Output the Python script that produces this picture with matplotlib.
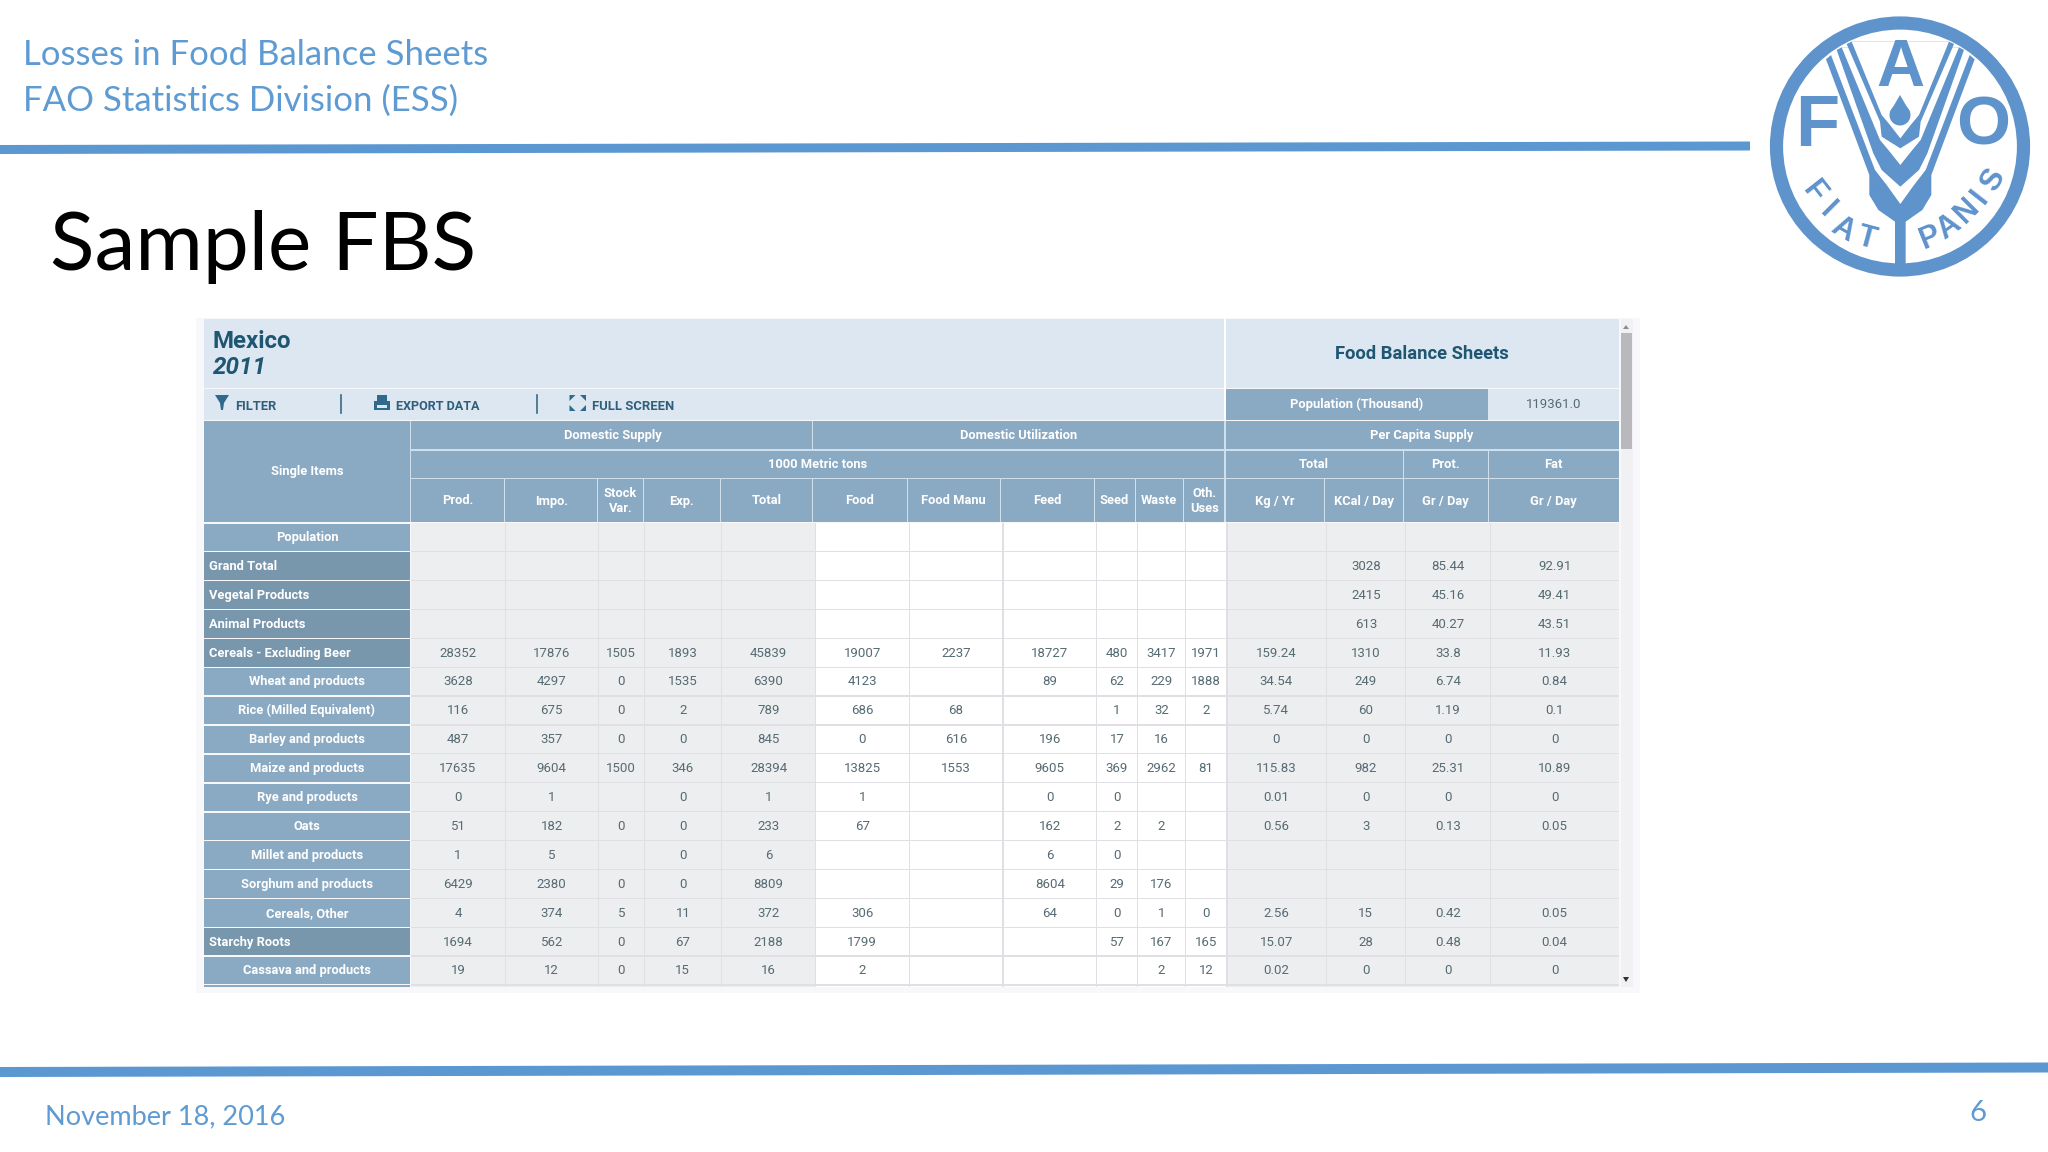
"""Sample FBS slide: Mexico 2011 food balance sheet table with FAO logo."""

import matplotlib

matplotlib.use("Agg")
import matplotlib.pyplot as plt
from matplotlib.patches import Circle, Polygon, Rectangle

ITEMS = [
    "Population", "Grand Total", "Vegetal Products", "Animal Products",
    "Cereals - Excluding Beer", "Wheat and products", "Rice (Milled Equivalent)",
    "Barley and products", "Maize and products", "Rye and products", "Oats",
    "Millet and products", "Sorghum and products", "Cereals, Other",
    "Starchy Roots", "Cassava and products",
]
GROUP_ITEMS = {"Grand Total", "Vegetal Products", "Animal Products",
               "Cereals - Excluding Beer", "Starchy Roots"}

COLUMNS = ["Prod.", "Impo.", "Stock\nVar.", "Exp.", "Total", "Food", "Food Manu",
           "Feed", "Seed", "Waste", "Oth.\nUses", "Kg / Yr", "KCal / Day",
           "Gr / Day", "Gr / Day"]

PROD = ["", "", "", "", "28352", "3628", "116", "487", "17635", "0", "51", "1", "6429", "4", "1694", "19"]
IMPO = ["", "", "", "", "17876", "4297", "675", "357", "9604", "1", "182", "5", "2380", "374", "562", "12"]
STOCK = ["", "", "", "", "1505", "0", "0", "0", "1500", "", "0", "", "0", "5", "0", "0"]
EXPO = ["", "", "", "", "1893", "1535", "2", "0", "346", "0", "0", "0", "0", "11", "67", "15"]
TOTAL = ["", "", "", "", "45839", "6390", "789", "845", "28394", "1", "233", "6", "8809", "372", "2188", "16"]
FOOD = ["", "", "", "", "19007", "4123", "686", "0", "13825", "1", "67", "", "", "306", "1799", "2"]
FOOD_MANU = ["", "", "", "", "2237", "", "68", "616", "1553", "", "", "", "", "", "", ""]
FEED = ["", "", "", "", "18727", "89", "", "196", "9605", "0", "162", "6", "8604", "64", "", ""]
SEED = ["", "", "", "", "480", "62", "1", "17", "369", "0", "2", "0", "29", "0", "57", ""]
WASTE = ["", "", "", "", "3417", "229", "32", "16", "2962", "", "2", "", "176", "1", "167", "2"]
OTHER = ["", "", "", "", "1971", "1888", "2", "", "81", "", "", "", "", "0", "165", "12"]
KG_YR = ["", "", "", "", "159.24", "34.54", "5.74", "0", "115.83", "0.01", "0.56", "", "", "2.56", "15.07", "0.02"]
KCAL = ["", "3028", "2415", "613", "1310", "249", "60", "0", "982", "0", "3", "", "", "15", "28", "0"]
PROT = ["", "85.44", "45.16", "40.27", "33.8", "6.74", "1.19", "0", "25.31", "0", "0.13", "", "", "0.42", "0.48", "0"]
FAT = ["", "92.91", "49.41", "43.51", "11.93", "0.84", "0.1", "0", "10.89", "0", "0.05", "", "", "0.05", "0.04", "0"]
VALUES = [PROD, IMPO, STOCK, EXPO, TOTAL, FOOD, FOOD_MANU, FEED, SEED, WASTE,
          OTHER, KG_YR, KCAL, PROT, FAT]

# layout, in image pixels
COL_X = [411, 505, 598.5, 644, 721.7, 815.4, 909, 1002.8, 1096.6, 1137.4,
         1185.5, 1226.8, 1326, 1405.5, 1490.5, 1618.7]
HEAD_X = [411, 504.7, 597.6, 643, 720.4, 812.3, 907, 1000.3, 1094, 1135,
          1183.5, 1224.8, 1324, 1403, 1488.5, 1618.7]
ROW_TOP = 523.0
ROW_H = 28.9

SLIDE_BLUE = "#5b97d1"
SLIDE_TEXT = "#5f9bd3"
LOGO_BLUE = "#5f93cb"
HEAD_BLUE = "#8aa9c2"
DARK_BLUE = "#7896ac"
PANEL = "#dde7f1"
GRAY = "#edeeef"
LINE = "#e0e0e4"
CELL_TEXT = "#566b73"
TITLE_TEXT = "#1f5672"
SEP = "#cfe0ec"
ROBOTO = "Roboto"
SLIDE_FONT = "Lato"


def rect(ax, x0, y0, x1, y1, color, zorder=1):
    ax.add_patch(Rectangle((x0, y0), x1 - x0, y1 - y0, facecolor=color,
                           edgecolor="none", zorder=zorder))


def label(ax, x, y, s, size=9.5, color="white", weight="normal", ha="center", style="normal", family=ROBOTO):
    ax.text(x, y, s, fontsize=size, color=color, fontweight=weight, ha=ha,
            va="center", style=style, family=family, zorder=5, linespacing=1.15)


def draw_slide(ax):
    # slightly tilted rules, the slide was captured off a screen
    ax.add_patch(Polygon([(0, 145), (1750, 141.5), (1750, 150.5), (0, 154)], facecolor=SLIDE_BLUE, edgecolor="none"))
    ax.add_patch(Polygon([(0, 1067), (2048, 1062.5), (2048, 1072.5), (0, 1077)], facecolor=SLIDE_BLUE, edgecolor="none"))
    ax.text(23, 65, "Losses in Food Balance Sheets", fontsize=25, color=SLIDE_TEXT, va="baseline", family=SLIDE_FONT)
    ax.text(23, 110.5, "FAO Statistics Division (ESS)", fontsize=25, color=SLIDE_TEXT, va="baseline", family=SLIDE_FONT)
    ax.text(50, 270, "Sample FBS", fontsize=59, color="black", va="baseline", family=SLIDE_FONT)
    ax.text(45, 1124, "November 18, 2016", fontsize=19.5, color=SLIDE_TEXT, va="baseline", family=SLIDE_FONT)
    ax.text(1969, 1121, "6", fontsize=21, color=SLIDE_TEXT, va="baseline", family=SLIDE_FONT)


def draw_header(ax):
    rect(ax, 196, 318, 1640, 993, "#f8f8fa", 0)
    rect(ax, 203.5, 319, 1618.7, 388, PANEL)
    rect(ax, 203.5, 389, 1618.7, 420, PANEL)
    rect(ax, 1224, 319, 1225.5, 420, "white", 2)
    rect(ax, 1225.5, 389, 1488, 420, HEAD_BLUE, 2)

    label(ax, 212, 341, "Mexico", 17.3, TITLE_TEXT, "bold", "left")
    label(ax, 213, 368, "2011", 17.5, TITLE_TEXT, "bold", "left", "italic")
    label(ax, 1422, 354, "Food Balance Sheets", 13.2, TITLE_TEXT, "bold")
    label(ax, 1357, 404, "Population (Thousand)", 9.4, "white", "bold")
    label(ax, 1554, 404, "119361.0", 9.5, CELL_TEXT)

    label(ax, 235, 406, "FILTER", 9.3, "#2f5f7c", "bold", "left")
    label(ax, 396, 406, "EXPORT DATA", 9.1, "#2f5f7c", "bold", "left")
    label(ax, 592.5, 406, "FULL SCREEN", 9.4, "#2f5f7c", "bold", "left")
    for x in (340.5, 537.3):
        ax.plot([x, x], [395, 413], color="#3c6a86", lw=1.2, zorder=3)

    # toolbar icons
    ax.add_patch(Polygon([(215, 395), (229, 395), (224, 403), (223, 410), (221, 410), (220, 403)],
                         facecolor="#2f6a8c", edgecolor="none", zorder=3))
    rect(ax, 374, 401, 390, 410, "#2f6a8c", 3)
    rect(ax, 377, 395, 387, 403, "#2f6a8c", 3)
    rect(ax, 377, 405, 387, 408, PANEL, 4)
    for sx, sy in ((569.5, 395), (586, 395), (569.5, 411), (586, 411)):
        dx = 6 if sx < 575 else -6
        dy = 6 if sy < 400 else -6
        ax.add_patch(Polygon([(sx, sy), (sx + dx, sy), (sx, sy + dy)], facecolor="#2f6a8c",
                             edgecolor="none", zorder=3))

    # header bands
    rect(ax, 203.5, 421, 1618.7, 522, HEAD_BLUE)
    rect(ax, 411, 449, 1618.7, 450.5, SEP, 2)
    rect(ax, 411, 477.5, 1618.7, 479, SEP, 2)
    rect(ax, 409.5, 421, 411, 522, SEP, 2)
    for x in (812.3, 1224.8):
        rect(ax, x - 0.5, 421, x + 0.7, 449, SEP, 2)
    for x in (1224.8, 1403, 1488.5):
        rect(ax, x - 0.5, 450, x + 0.7, 478, SEP, 2)
    for x in HEAD_X[1:-1]:
        rect(ax, x - 0.5, 479, x + 0.7, 522, SEP, 2)

    label(ax, 307, 472, "Single Items", 9.3, "white", "bold")
    label(ax, 612.5, 435.5, "Domestic Supply", 9.3, "white", "bold")
    label(ax, 1018.5, 435.5, "Domestic Utilization", 9.3, "white", "bold")
    label(ax, 1422, 435.5, "Per Capita Supply", 9.3, "white", "bold")
    label(ax, 818, 464, "1000 Metric tons", 9.3, "white", "bold")
    label(ax, 1314, 464, "Total", 9.3, "white", "bold")
    label(ax, 1445.5, 464, "Prot.", 9.3, "white", "bold")
    label(ax, 1553.5, 464, "Fat", 9.3, "white", "bold")
    for i, name in enumerate(COLUMNS):
        label(ax, (HEAD_X[i] + HEAD_X[i + 1]) / 2, 501, name, 9.3, "white", "bold")

    # scrollbar
    rect(ax, 1620.5, 319, 1633, 987, "#f1f1f4", 1)
    rect(ax, 1621, 332.5, 1631.5, 449, "#b9b9bd", 2)
    ax.add_patch(Polygon([(1623, 329), (1629, 329), (1626, 325)], facecolor="#8c8c90", edgecolor="none", zorder=3))
    ax.add_patch(Polygon([(1623, 977), (1629, 977), (1626, 982)], facecolor="#303033", edgecolor="none", zorder=3))


def draw_table(ax):
    bottom = 987
    rect(ax, 411, ROW_TOP, 815.4, bottom, GRAY)
    rect(ax, 815.4, ROW_TOP, 1226.8, bottom, "white")
    rect(ax, 1226.8, ROW_TOP, 1618.7, bottom, GRAY)

    for x in COL_X[1:-1]:
        rect(ax, x - 0.5, ROW_TOP, x + 0.7, bottom, LINE, 2)

    for i, item in enumerate(ITEMS):
        y0 = ROW_TOP + i * ROW_H
        color = DARK_BLUE if item in GROUP_ITEMS else HEAD_BLUE
        rect(ax, 203.5, y0 + 0.5, 410, y0 + ROW_H - 1, color, 2)
        rect(ax, 411, y0 + ROW_H - 1, 1618.7, y0 + ROW_H + 0.3, LINE, 2)
        yc = y0 + ROW_H / 2
        if item in GROUP_ITEMS:
            label(ax, 208.7, yc, item, 9.3, "white", "bold", "left")
        else:
            label(ax, 307, yc, item, 9.3, "white", "bold")
        for c, col in enumerate(VALUES):
            if col[i]:
                label(ax, (COL_X[c] + COL_X[c + 1]) / 2, yc, col[i], 9.5, CELL_TEXT)
    # next row just showing at the clipped bottom edge
    rect(ax, 203.5, ROW_TOP + 16 * ROW_H, 410, bottom, HEAD_BLUE, 2)


def draw_logo(ax):
    # logo coordinates come from the 3x crop: crop coords / 3 + offset
    def pts(coords):
        return [(1740 + x / 3, y / 3) for x, y in coords]

    def vee(left, color, stem=()):
        # left profile from the arm top down to the tip, mirrored about the axis
        right = [(962 - x, y) for x, y in reversed(left)]
        coords = list(left) + list(stem) + right
        ax.add_patch(Polygon(pts(coords), facecolor=color, edgecolor="none", zorder=7))

    ax.add_patch(Circle((1900, 146.5), 123.5, facecolor="white", edgecolor=LOGO_BLUE, linewidth=9.5, zorder=6))

    vee([(273, 165), (258, 178), (388, 525), (388, 585), (415, 630), (465, 665)], LOGO_BLUE,
        stem=[(465, 800), (497, 800)])
    vee([(273, 165), (405, 510), (440, 555), (481, 612)], "white")
    vee([(305, 142), (290, 150), (400, 460), (425, 510), (481, 560)], LOGO_BLUE)
    vee([(305, 142), (420, 420), (445, 450), (481, 495)], "white")
    vee([(335, 125), (320, 132), (420, 365), (425, 410), (481, 445)], LOGO_BLUE)
    vee([(335, 125), (425, 345), (450, 375), (481, 415)], "white")

    # water drop
    ax.add_patch(Circle((1740 + 480 / 3, 345 / 3), 10.5, facecolor=LOGO_BLUE, edgecolor="none", zorder=8))
    ax.add_patch(Polygon(pts([(451, 335), (480, 285), (509, 335)]), facecolor=LOGO_BLUE, edgecolor="none", zorder=8))

    def letter(x, y, s, size, rot=0):
        ax.text(1740 + x / 3, y / 3, s, fontsize=size, color=LOGO_BLUE, fontweight="bold", ha="center", va="center",
                rotation=rot, family="Liberation Sans", zorder=9)

    letter(232, 380, "F", 52)
    letter(482, 208, "A", 48)
    letter(728, 380, "O", 50)
    for x, y, s, rot in [(222, 578, "F", -52), (262, 632, "I", -45), (308, 690, "A", -30), (380, 715, "T", -15),
                         (570, 712, "P", 22), (625, 680, "A", 35), (680, 632, "N", 45), (722, 590, "I", 52),
                         (760, 540, "S", 60)]:
        letter(x, y, s, 22, rot)


def main():
    fig = plt.figure(figsize=(20.48, 11.52), dpi=100)
    ax = fig.add_axes([0, 0, 1, 1])
    ax.set_xlim(0, 2048)
    ax.set_ylim(1152, 0)
    ax.axis("off")

    draw_slide(ax)
    draw_header(ax)
    draw_table(ax)
    draw_logo(ax)

    fig.savefig("out.png", dpi=100, facecolor="white")


if __name__ == "__main__":
    main()
